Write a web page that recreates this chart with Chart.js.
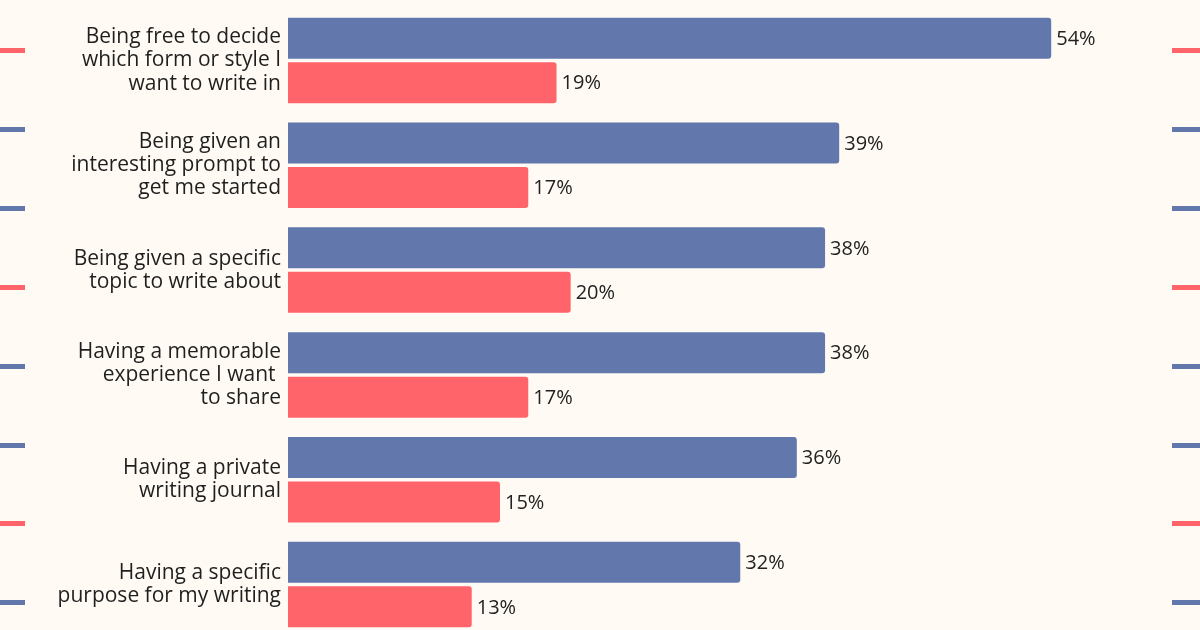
<!DOCTYPE html>
<html>
<head>
<meta charset="utf-8">
<script src="https://cdn.jsdelivr.net/npm/chart.js@4"></script>
<style>
  html, body { margin: 0; padding: 0; background: #FFFBF4; overflow: hidden; }
  #wrap { position: relative; width: 1200px; height: 637px; }
</style>
</head>
<body>
<div id="wrap"><canvas id="bar-chart"></canvas></div>
<script>
const categories = [
    ["Being free to decide", "which form or style I", "want to write in"],
    ["Being given an", "interesting prompt to", "get me started"],
    ["Being given a specific", "topic to write about"],
    ["Having a memorable", "experience I want ", "to share"],
    ["Having a private", "writing journal"],
    ["Having a specific", "purpose for my writing"]
];
const seriesBlue = [54, 39, 38, 38, 36, 32];
const seriesRed = [19, 17, 20, 17, 15, 13];

const BLUE = "#6277AB";
const RED = "#FF646A";

// value labels at the end of each bar
const valueLabels = {
    id: 'valueLabels',
    afterDatasetsDraw(chart) {
        const ctx = chart.ctx;
        ctx.save();
        ctx.font = '20px "Open Sans"';
        ctx.fillStyle = '#222222';
        ctx.textAlign = 'left';
        ctx.textBaseline = 'middle';
        chart.data.datasets.forEach((ds, i) => {
            chart.getDatasetMeta(i).data.forEach((bar, j) => {
                ctx.fillText(ds.data[j] + '%', bar.x + 5, bar.y + 1);
            });
        });
        ctx.restore();
    }
};

// little coloured dashes on both page edges
const edgeDashes = {
    id: 'edgeDashes',
    beforeDraw(chart) {
        const ctx = chart.ctx;
        const ys = [50, 129, 208, 287, 366, 445, 523, 602];
        const cols = [RED, BLUE, BLUE, RED, BLUE, BLUE, RED, BLUE];
        ctx.save();
        ys.forEach((y, i) => {
            ctx.fillStyle = cols[i];
            ctx.fillRect(0, y - 2, 25, 5);
            ctx.fillRect(1172, y - 2, 28, 5);
        });
        ctx.restore();
    }
};

new Chart(document.getElementById("bar-chart"), {
    type: 'bar',
    data: {
        labels: categories,
        datasets: [{
            data: seriesBlue,
            backgroundColor: BLUE,
            borderRadius: 3,
            borderSkipped: 'start',
            barPercentage: 0.92,
            categoryPercentage: 0.85
        }, {
            data: seriesRed,
            backgroundColor: RED,
            borderRadius: 3,
            borderSkipped: 'start',
            barPercentage: 0.92,
            categoryPercentage: 0.85
        }]
    },
    options: {
        indexAxis: 'y',
        responsive: true,
        maintainAspectRatio: false,
        animation: false,
        layout: { padding: { top: 8, right: 64, bottom: 0, left: 0 } },
        plugins: {
            legend: { display: false },
            tooltip: { enabled: false }
        },
        scales: {
            x: {
                display: false,
                min: 0,
                max: 60
            },
            y: {
                grid: { display: false, drawTicks: false },
                border: { display: false },
                ticks: {
                    color: '#1f1f1f',
                    font: { family: 'Open Sans', size: 21, lineHeight: 1.1 },
                    padding: 7
                },
                afterFit(scale) {
                    scale.width = 288;
                    scale.paddingTop = 0;
                    scale.paddingBottom = 0;
                }
            }
        }
    },
    plugins: [edgeDashes, valueLabels]
});
</script>
</body>
</html>
